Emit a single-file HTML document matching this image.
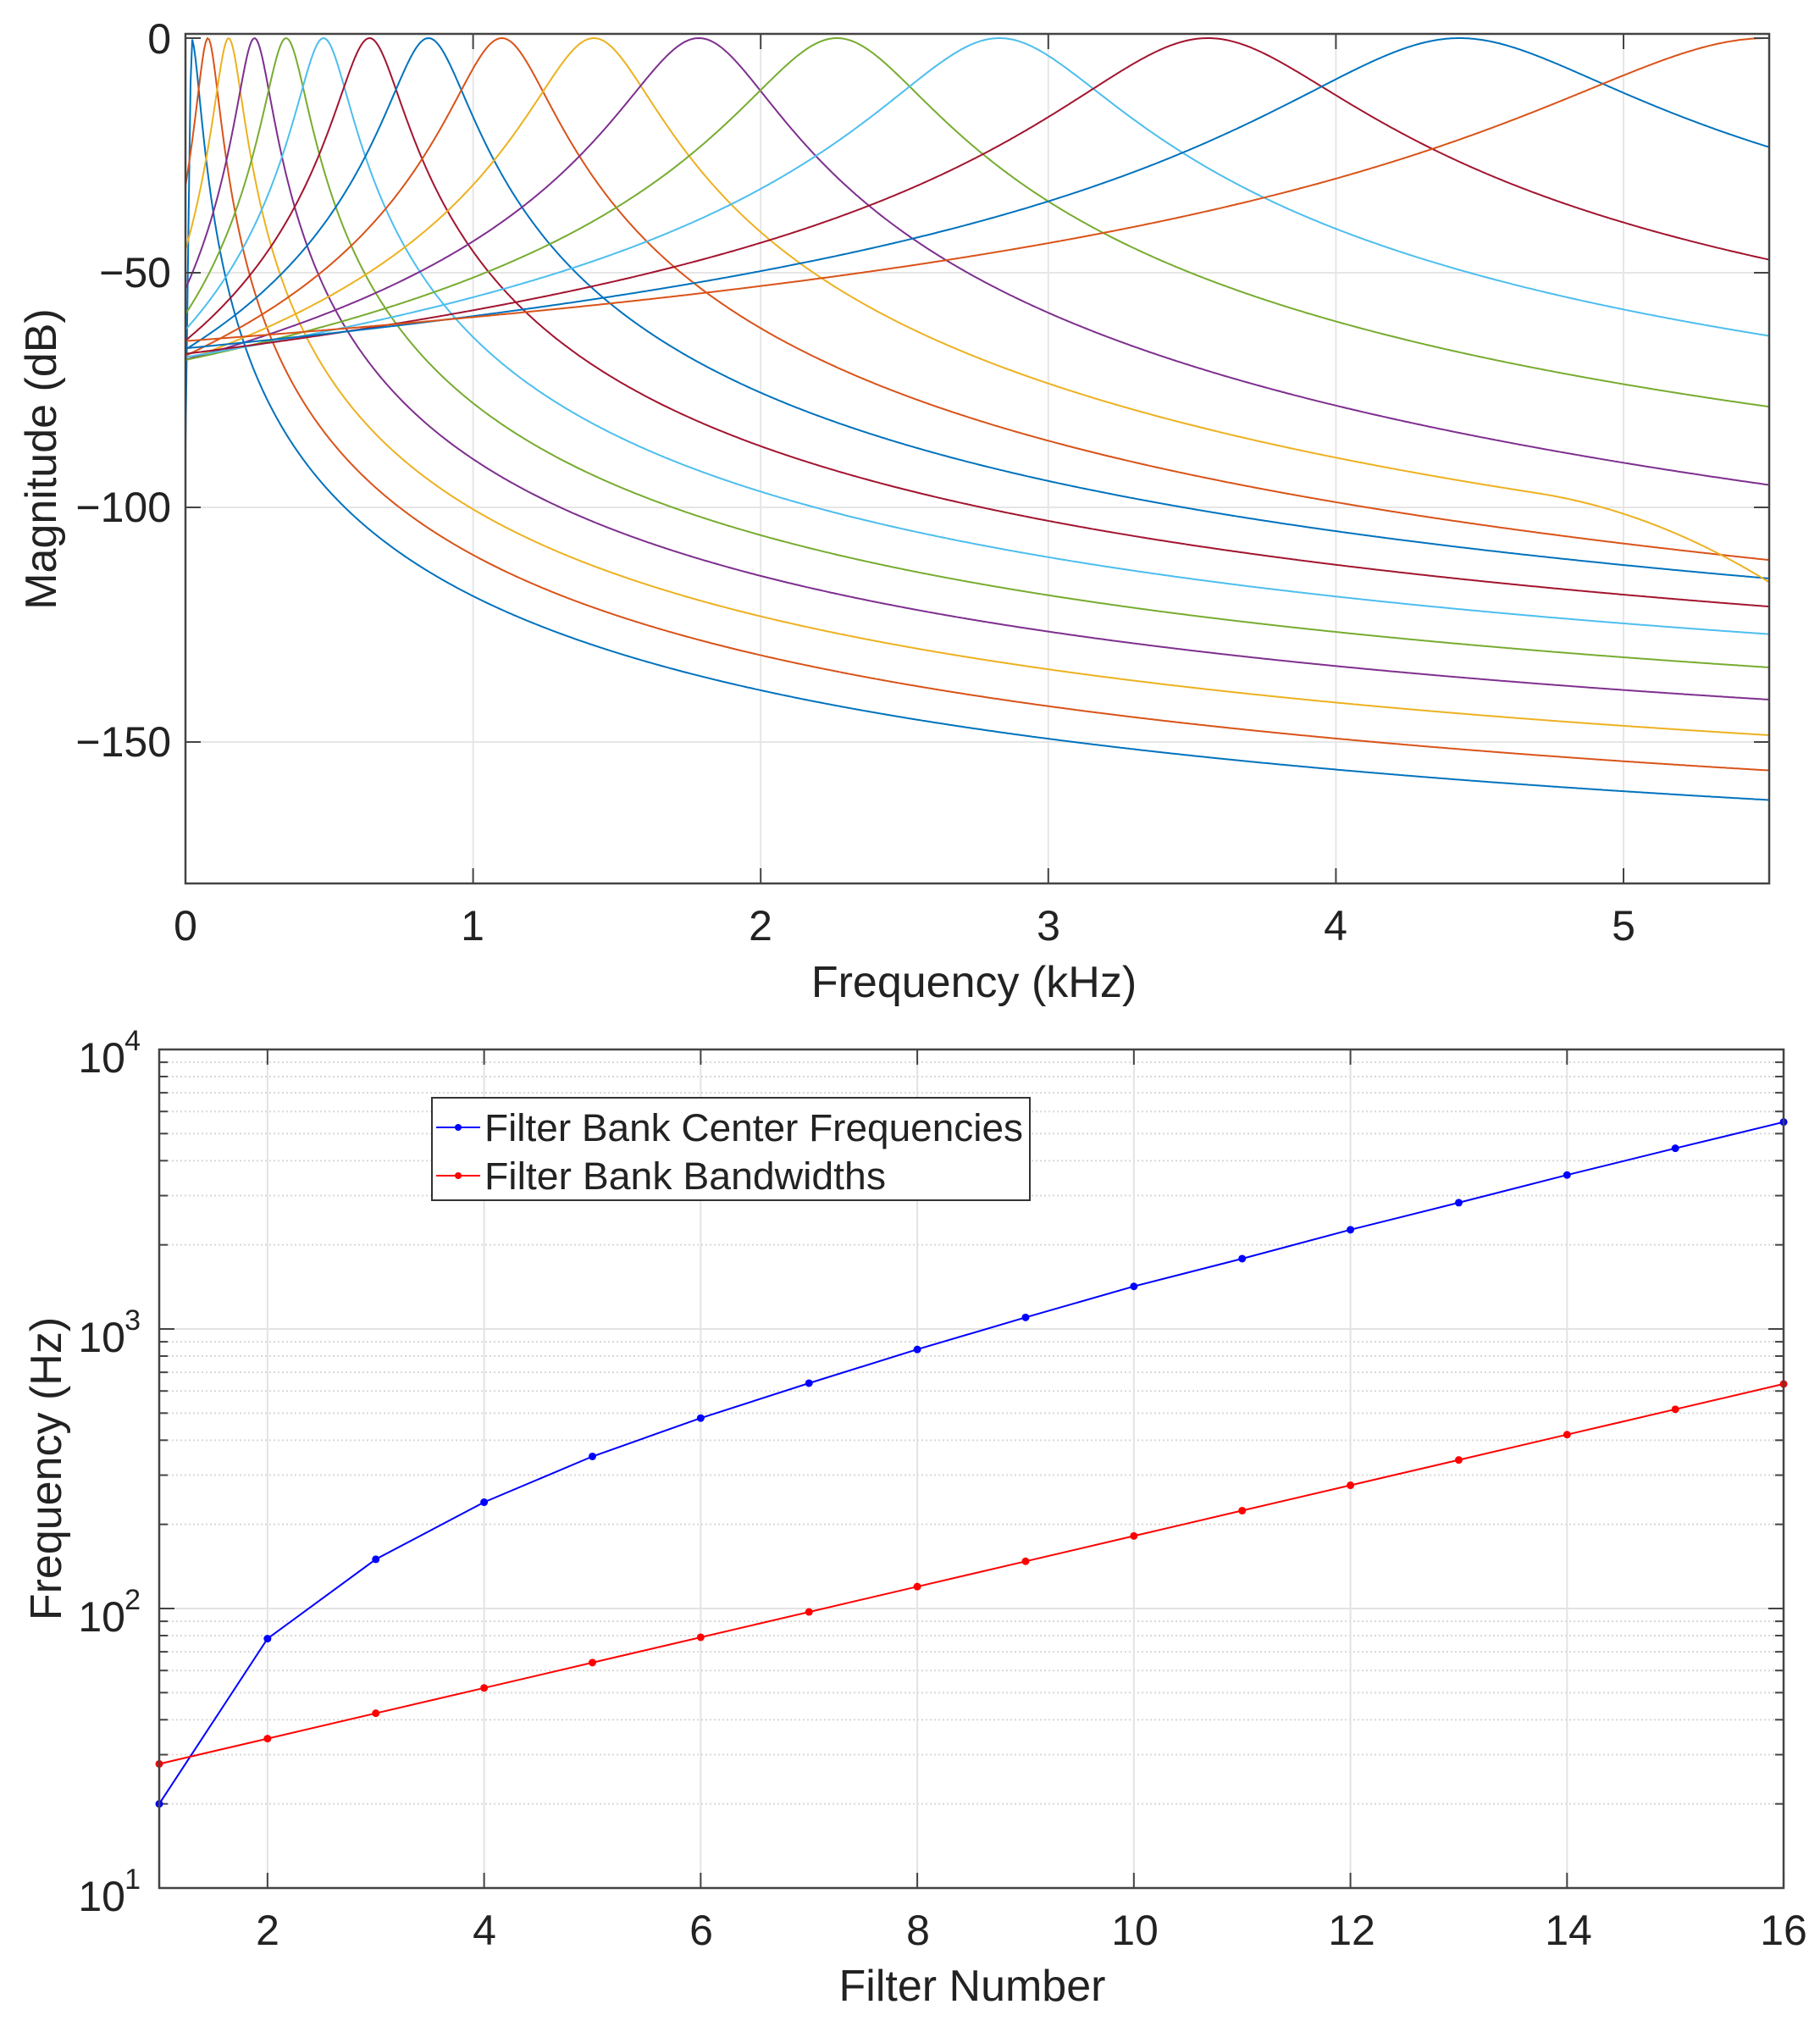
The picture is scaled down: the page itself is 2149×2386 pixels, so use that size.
<!DOCTYPE html>
<html><head><meta charset="utf-8"><style>
html,body{margin:0;padding:0;background:#fff;}
svg{display:block;}
text{font-family:"Liberation Sans",Arial,sans-serif;fill:#222;}
</style></head><body>
<svg id="s" width="2149" height="2386" viewBox="0 0 2149 2386" xmlns="http://www.w3.org/2000/svg">
<rect width="2149" height="2386" fill="#fff"/>
<g id="g1"></g>
<g id="g2"></g>
<g font-size="50" text-anchor="middle">
<text x="219" y="1110">0</text><text x="558" y="1110">1</text><text x="898" y="1110">2</text>
<text x="1238" y="1110">3</text><text x="1577" y="1110">4</text><text x="1917" y="1110">5</text>
</g>
<g font-size="50" text-anchor="end">
<text x="202" y="63">0</text><text x="202" y="339">−50</text><text x="202" y="616">−100</text><text x="202" y="893">−150</text>
</g>
<text x="1150" y="1177" font-size="52" text-anchor="middle">Frequency (kHz)</text>
<text transform="translate(66,542) rotate(-90)" font-size="52" text-anchor="middle">Magnitude (dB)</text>
<g font-size="50" text-anchor="middle">
<text x="316" y="2296">2</text><text x="572" y="2296">4</text><text x="828" y="2296">6</text><text x="1084" y="2296">8</text>
<text x="1340" y="2296">10</text><text x="1596" y="2296">12</text><text x="1852" y="2296">14</text><text x="2106" y="2296">16</text>
</g>
<g font-size="50" text-anchor="end">
<text x="148" y="2256">10</text><text x="166" y="2230" font-size="34">1</text>
<text x="148" y="1926">10</text><text x="166" y="1900" font-size="34">2</text>
<text x="148" y="1596">10</text><text x="166" y="1570" font-size="34">3</text>
<text x="148" y="1266">10</text><text x="166" y="1240" font-size="34">4</text>
</g>
<text x="1148" y="2362" font-size="52" text-anchor="middle">Filter Number</text>
<text transform="translate(72,1734) rotate(-90)" font-size="52" text-anchor="middle">Frequency (Hz)</text>
<rect x="510" y="1296" width="706" height="121" fill="#fff" stroke="#333" stroke-width="2"/>
<line x1="515" y1="1331" x2="567" y2="1331" stroke="#0000ff" stroke-width="2"/><circle cx="541" cy="1331" r="4" fill="#0000ff"/>
<line x1="515" y1="1388" x2="567" y2="1388" stroke="#ff0000" stroke-width="2"/><circle cx="541" cy="1388" r="4" fill="#ff0000"/>
<text x="572" y="1347" font-size="45" textLength="636" lengthAdjust="spacingAndGlyphs" fill="#111">Filter Bank Center Frequencies</text>
<text x="572" y="1404" font-size="45" textLength="474" lengthAdjust="spacingAndGlyphs" fill="#111">Filter Bank Bandwidths</text>
</svg>
<script>
var NS="http://www.w3.org/2000/svg";
function el(p,t,a){var e=document.createElementNS(NS,t);for(var k in a)e.setAttribute(k,a[k]);p.appendChild(e);return e;}
var g1=document.getElementById('g1'),g2=document.getElementById('g2');
var L=219,T=40,R=2089,B=1043,PX=339.6;
function X1(f){return L+f/1000*PX;}
function Y1(d){return 45+(-d)*5.54;}
for(var i=1;i<=5;i++)el(g1,'line',{x1:X1(i*1000),y1:T,x2:X1(i*1000),y2:B,stroke:'#e6e6e6','stroke-width':2});
[-50,-100,-150].forEach(function(d){el(g1,'line',{x1:L,y1:Y1(d),x2:R,y2:Y1(d),stroke:'#e6e6e6','stroke-width':2});});
var fc=[20,78,150,240,350,480,640,845,1100,1420,1785,2265,2830,3555,4430,5500];
var bw=[];for(var i=0;i<16;i++)bw.push(27.8*Math.pow(1.232,i));
var KH=[6500,7000,7000,7000,7400,7770,9130,11200,20300,30000,50000,14000,9400,8170,4400,4400];
var cols=['#0072BD','#D95319','#EDB120','#7E2F8E','#77AC30','#4DBEEE','#A2142F'];
for(var k=0;k<16;k++){
 var d='';
 for(var x=L;x<=R;x+=2){
  var f=(x-L)/PX*1000;var D=Math.abs(f-fc[k]);
  var K=f>fc[k]?KH[k]:15000;var De=D/(1+D/K);
  var r=De/bw[k];var db=-40*Math.log(1+r*r)/Math.LN10;
  if(k==0&&f<fc[k])db-=80*(1-f/fc[k]);
  if(k==9&&f>4700)db-=12*Math.pow((f-4700)/800,2);
  if(db<-180)db=-180;
  d+=(d?'L':'M')+x.toFixed(1)+' '+Y1(db).toFixed(1);
 }
 el(g1,'path',{d:d,fill:'none',stroke:cols[k%7],'stroke-width':2});
}
el(g1,'rect',{x:L,y:T,width:R-L,height:B-T,fill:'none',stroke:'#444','stroke-width':2.5});
for(var i=0;i<=5;i++){el(g1,'line',{x1:X1(i*1000),y1:B,x2:X1(i*1000),y2:B-18,stroke:'#444','stroke-width':2});el(g1,'line',{x1:X1(i*1000),y1:T,x2:X1(i*1000),y2:T+18,stroke:'#444','stroke-width':2});}
[0,-50,-100,-150].forEach(function(d){el(g1,'line',{x1:L,y1:Y1(d),x2:L+18,y2:Y1(d),stroke:'#444','stroke-width':2});el(g1,'line',{x1:R,y1:Y1(d),x2:R-18,y2:Y1(d),stroke:'#444','stroke-width':2});});
var L2=188,T2=1239,R2=2106,B2=2229;
function X2(n){return L2+(n-1)*127.87;}
function Y2(v){return B2-(Math.log(v)/Math.LN10-1)*330;}
for(var dec=1;dec<4;dec++)for(var m=2;m<=9;m++){var y=Y2(m*Math.pow(10,dec));el(g2,'line',{x1:L2,y1:y,x2:R2,y2:y,stroke:'#d8d8d8','stroke-width':2,'stroke-dasharray':'2 3'});
 el(g2,'line',{x1:L2,y1:y,x2:L2+10,y2:y,stroke:'#444','stroke-width':2});el(g2,'line',{x1:R2,y1:y,x2:R2-10,y2:y,stroke:'#444','stroke-width':2});}
for(var n=2;n<=16;n+=2)el(g2,'line',{x1:X2(n),y1:T2,x2:X2(n),y2:B2,stroke:'#e3e3e3','stroke-width':2});
for(var dec=2;dec<4;dec++){var y=Y2(Math.pow(10,dec));el(g2,'line',{x1:L2,y1:y,x2:R2,y2:y,stroke:'#e3e3e3','stroke-width':2});}
function series(vals,c){var d='';for(var i=0;i<16;i++)d+=(i?'L':'M')+X2(i+1).toFixed(1)+' '+Y2(vals[i]).toFixed(1);
 el(g2,'path',{d:d,fill:'none',stroke:c,'stroke-width':2});
 for(var i=0;i<16;i++)el(g2,'circle',{cx:X2(i+1),cy:Y2(vals[i]),r:4.5,fill:c});}
series(fc,'#0000ff');series(bw,'#ff0000');
el(g2,'rect',{x:L2,y:T2,width:R2-L2,height:B2-T2,fill:'none',stroke:'#444','stroke-width':2.5});
for(var n=2;n<=16;n+=2){el(g2,'line',{x1:X2(n),y1:B2,x2:X2(n),y2:B2-18,stroke:'#444','stroke-width':2});el(g2,'line',{x1:X2(n),y1:T2,x2:X2(n),y2:T2+18,stroke:'#444','stroke-width':2});}
for(var dec=1;dec<=4;dec++){var y=Y2(Math.pow(10,dec));el(g2,'line',{x1:L2,y1:y,x2:L2+18,y2:y,stroke:'#444','stroke-width':2});el(g2,'line',{x1:R2,y1:y,x2:R2-18,y2:y,stroke:'#444','stroke-width':2});}
</script>
</body></html>
